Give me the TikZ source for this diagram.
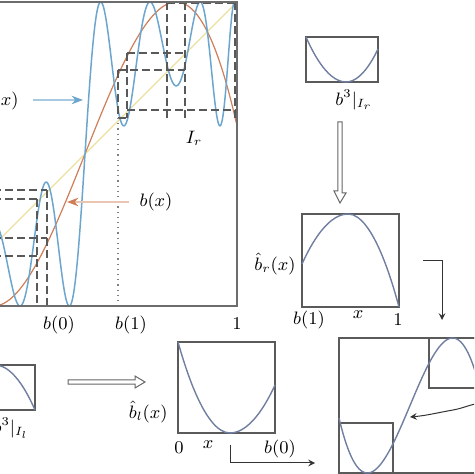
\documentclass[tikz,border=0pt]{standalone}
\usepackage{amsmath, amssymb}
\usetikzlibrary{arrows.meta}

\definecolor{bluecurve}{RGB}{108,166,206}
\definecolor{redcurve}{RGB}{206,126,88}
\definecolor{diagline}{RGB}{236,224,160}
\definecolor{insetcurve}{RGB}{112,126,160}
\definecolor{framegray}{RGB}{90,90,90}

\tikzset{
  declare function={bmap(\t)=0.5+2.5*(\t-0.5)-9.259*(\t-0.5)*(\t-0.5)*(\t-0.5);},
  lbl/.style={font=\fontsize{9}{10}\selectfont, inner sep=1pt},
  frame/.style={draw=framegray, line width=0.6pt},
  cobweb/.style={draw=black!65, dash pattern=on 4pt off 2pt, line width=0.6pt},
  inset/.style={draw=insetcurve, line width=0.7pt},
  thinarrow/.style={->, >=stealth, line width=0.5pt, draw=black!80},
  fatarrow/.style={draw=gray!80!black, fill=white, line width=0.5pt, line join=miter},
}

\begin{document}
\begin{tikzpicture}[x=0.5pt, y=0.5pt]
    \useasboundingbox (0,0) rectangle (474,474);
    \clip (0,0) rectangle (474,474);

    % main plot, unit square of b
    \begin{scope}[shift={(-33.5pt,84pt)}, x=152pt, y=152pt]
        \draw [diagline, line width=0.6pt] (0,0) -- (1,1);
        \draw [redcurve, line width=0.6pt] plot[domain=0:1, samples=150] (\x,{bmap(\x)});
        \draw [bluecurve, line width=0.75pt] plot[domain=0:1, samples=700] (\x,{bmap(bmap(bmap(\x)))});
    \end{scope}

    % cobweb boxes round I_r
    \draw [cobweb] (127,421) -- (185,421);
    \draw [cobweb] (118,404) -- (185,404);
    \draw [cobweb] (127,364) -- (237,364);
    \draw [cobweb] (118,356) -- (127,356);
    \draw [cobweb] (118,404) -- (118,356);
    \draw [cobweb] (127,421) -- (127,356);
    \draw [cobweb] (167,472) -- (167,356);
    \draw [cobweb] (185,472) -- (185,356);
    \draw [cobweb] (235,472) -- (235,356);
    \draw [cobweb] (167,471) -- (237,471);
    % cobweb boxes round I_l
    \draw [cobweb] (-67,284) -- (47,284);
    \draw [cobweb] (-67,275) -- (37,275);
    \draw [cobweb] (-67,236) -- (47,236);
    \draw [cobweb] (-67,218) -- (37,218);
    \draw [cobweb] (37,275) -- (37,168);
    \draw [cobweb] (47,284) -- (47,168);
    \draw [gray, dotted, line width=0.6pt] (118,356) -- (118,168);

    \draw [draw=gray!85!black, line width=1.1pt] (-67,168) rectangle (237,472);

    \node [lbl] (Ir) at (194,336) {$I_r$};
    \node [lbl] (tickbzero) at (59,149) {$b(0)$};
    \node [lbl] (tickbone) at (131,149) {$b(1)$};
    \node [lbl] (tickone) at (237,150) {$1$};

    \node [lbl, anchor=east] (bthree) at (21,374) {$b^3(x)$};
    \coordinate (bthreetip) at (83,374);
    \draw [-{Stealth[color=bluecurve]}, draw=bluecurve!60, line width=0.6pt, shorten <=6pt] (bthree.east) -- (bthreetip);
    \node [lbl] (bone) at (156,272) {$b(x)$};
    \coordinate (bonetip) at (67,272);
    \draw [-{Stealth[color=redcurve]}, draw=redcurve!45, line width=0.6pt, shorten <=4pt] (bone.west) -- (bonetip);

    % b^3 on I_r
    \draw [frame] (306,392) rectangle (378,437);
    \draw [inset] (306,437) parabola bend (346,392) (378,425);
    \node [lbl] (brestr) at (354,374) {$b^3|_{I_r}$};
    \coordinate (dra) at (340,352);
    \coordinate (drb) at (340,271);
    \draw [fatarrow] (dra) ++(-2.2,0) |- ++(0,-69) -- ++(-3.8,0) -- (drb)
        -- ++(6,10) -- ++(-3.8,0) |- (dra) -- cycle;

    % rescaled right branch
    \draw [frame] (302,167) rectangle (399,260);
    \draw [inset] (302,210) parabola bend (348,260) (399,167);
    \node [lbl, anchor=east] (bhatr) at (298,210) {$\hat{b}_r(x)$};
    \node [lbl] (rbone) at (309,154) {$b(1)$};
    \node [lbl] (rx) at (358,159) {$x$};
    \node [lbl] (rone) at (398,154) {$1$};
    \coordinate (ea) at (423,213);
    \coordinate (eb) at (442,154);
    \draw [thinarrow] (ea) -| (eb);

    % b^3 on I_l
    \draw [frame] (-37,64) rectangle (35,109);
    \draw [inset] (-37,76) parabola bend (-5,109) (35,64);
    \node [lbl] (blrestr) at (11,46) {$b^3|_{I_l}$};
    \coordinate (dla) at (68,92);
    \coordinate (dlb) at (145,92);
    \draw [fatarrow] (dla) ++(0,2.2) -- ++(67,0) -- ++(0,3.8) -- (dlb)
        -- ++(-10,-6) -- ++(0,3.8) -- ++(-67,0) -- cycle;

    % rescaled left branch
    \draw [frame] (178,41) rectangle (275,132);
    \draw [inset] (178,132) parabola bend (230,41) (275,89);
    \node [lbl, anchor=east] (bhatl) at (170,62) {$\hat{b}_l(x)$};
    \node [lbl] (lzero) at (179,26) {$0$};
    \node [lbl] (lx) at (208,29) {$x$};
    \node [lbl] (lbzero) at (280,25) {$b(0)$};
    \coordinate (fa) at (230,29);
    \coordinate (fb) at (315,11);
    \draw [thinarrow] (fa) |- (fb);

    % b again, with both little boxes
    \draw [frame] (339,1) rectangle (481,136);
    \draw [frame] (339,1) rectangle (393,51);
    \draw [frame] (429,86) rectangle (481,136);
    \draw [inset] plot[domain=0:1, samples=100] ({339+142*\x},{1+135*bmap(\x)});
    \coordinate (ca) at (482,71);
    \coordinate (cb) at (410,57);
    \draw [thinarrow] (ca) to[out=185, in=10] (453,64) to[out=190, in=5] (cb);
\end{tikzpicture}
\end{document}
